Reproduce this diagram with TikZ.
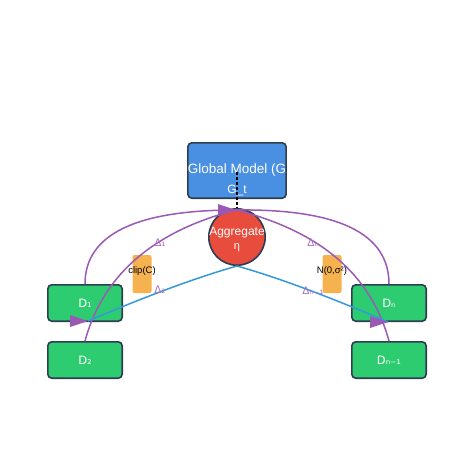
\documentclass[tikz,border=0pt]{standalone}
\usepackage{fontspec}
\setmainfont{Liberation Sans}
\newfontfamily\subfont{DejaVu Sans}
\begin{document}
\begin{tikzpicture}[x=1pt,y=-1pt,
  box/.style={draw=edgecolor,line width=1.6pt,rounded corners=4pt,inner sep=0pt},
  client/.style={box,fill=clientcolor,minimum width=74.4pt,minimum height=36.4pt,text=white,font=\subfont\fontsize{11.5}{13}\selectfont},
  noisebox/.style={fill=noisecolor,rounded corners=2pt,minimum width=19pt,minimum height=38pt,inner sep=0pt},
  update/.style={draw=updatecolor,line width=1.5pt},
  send/.style={draw=sendcolor,line width=1.5pt},
  delta/.style={text=updatecolor!85,font=\subfont\fontsize{10.5}{12}\selectfont,inner sep=0pt},
  tag/.style={font=\fontsize{9.5}{11}\selectfont,inner sep=0pt}]
 \definecolor{edgecolor}{HTML}{2C3E50}
 \definecolor{globalcolor}{HTML}{4A90E2}
 \definecolor{aggcolor}{HTML}{E74C3C}
 \definecolor{clientcolor}{HTML}{2ECC71}
 \definecolor{noisecolor}{HTML}{F5B24F}
 \definecolor{updatecolor}{HTML}{9B59B6}
 \definecolor{sendcolor}{HTML}{3498DB}
 \useasboundingbox (0,0) rectangle (474,474);
 % server side
 \node [box,fill=globalcolor,minimum width=92.4pt,minimum height=55.4pt,text=white,font=\fontsize{13.5}{15}\selectfont] (gm) at (237,170.5) {Global Model (G};
 \node [text=white,font=\fontsize{12}{14}\selectfont,inner sep=0pt] (gmsub) at (237,190) {G\_t};
 \node [box,circle,fill=aggcolor,minimum size=56.4pt] (agg) at (237,237) {};
 \node [text=white,font=\fontsize{12}{14}\selectfont,inner sep=0pt] (aggtext) at (237,233) {Aggregate};
 \node [text=white,font=\fontsize{11}{13}\selectfont,inner sep=0pt] (aggeta) at (237,248) {η};
 % privacy steps
 \node [noisebox] (clip) at (142,274) {};
 \node [noisebox] (noise) at (332,274) {};
 \node [tag] (cliptext) at (142,271) {clip(C)};
 \node [tag] (noisetext) at (332,271) {N(0,σ²)};
 % clients
 \node [client] (d1) at (85,303) {D₁};
 \node [client] (d2) at (85,360) {D₂};
 \node [client] (dn) at (389,303) {Dₙ};
 \node [client] (dn1) at (389,360) {Dₙ₋₁};
 \coordinate (hub) at (236,210);
 \coordinate (tipl) at (88,321);
 \coordinate (tipr) at (388,322);
 % updates and broadcast
 \draw [update] (d1.north) .. controls (85,234.7) and (135.3,210) .. (hub);
 \draw [update] (dn.north) .. controls (389,233.3) and (338,208.7) .. (hub);
 \draw [update] (d2.north) .. controls (103,275) and (153.3,231.3) .. (hub);
 \draw [update] (dn1.north) .. controls (371,275) and (320.7,231.3) .. (hub);
 \draw [send] (agg.south) .. controls (199,276.7) and (149,295) .. (tipl);
 \draw [send] (agg.south) .. controls (275,276.7) and (325,295) .. (tipr);
 \foreach \t in {hub,tipl,tipr}
  \fill [updatecolor] (\t) -- ++(-18,-6) -- ++(0,12) -- cycle;
 \draw [black,line width=1.2pt,dash pattern=on 3pt off 2pt] (237,172) -- (agg.north);
 \node [delta] (dl1) at (160,243) {Δ₁};
 \node [delta] (dl2) at (160,290) {Δ₂};
 \node [delta] (dln) at (313,243) {Δₙ};
 \node [delta] (dln1) at (313,291) {Δₙ₋₁};
\end{tikzpicture}
\end{document}
